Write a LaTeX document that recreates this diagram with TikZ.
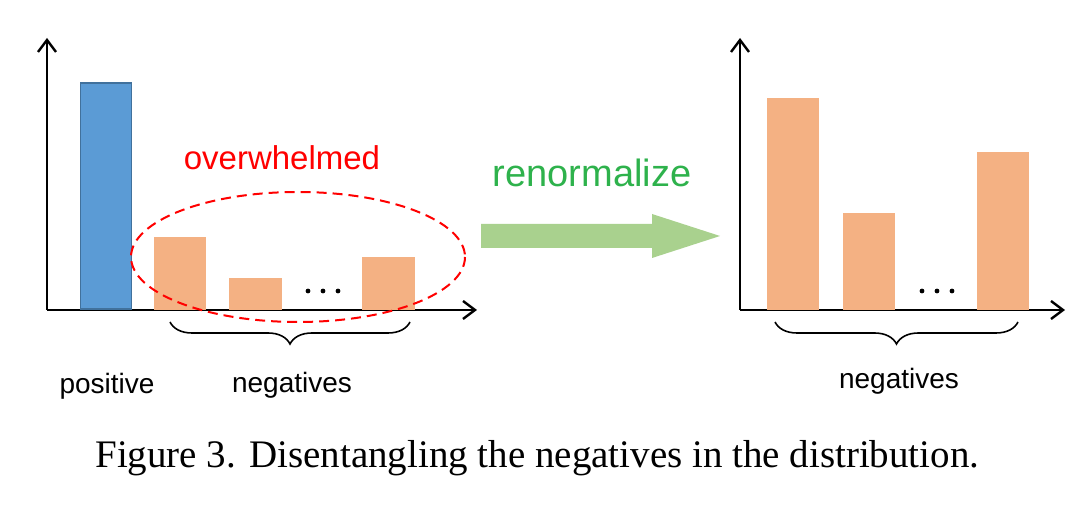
\documentclass[tikz,border=0pt]{standalone}
\usepackage{fontspec}
\setmainfont{Liberation Serif}
\setsansfont{Liberation Sans}
\usetikzlibrary{decorations.pathreplacing,arrows.meta}
\definecolor{bluebar}{HTML}{5B9BD5}
\definecolor{bluebd}{HTML}{41719C}
\definecolor{orbar}{HTML}{F4B183}
\definecolor{grarrow}{HTML}{A9D18E}
\definecolor{grtext}{HTML}{2EB24C}
\begin{document}
\begin{tikzpicture}[x=0.5pt,y=-0.5pt,
  ax/.style={line width=1.2pt,-{Straight Barb[length=6pt,width=9pt]}},
  ob/.style={fill=orbar,draw=none},
  lbl/.style={font=\sffamily\fontsize{14}{16}\selectfont},
  dot/.style={circle,fill=black,inner sep=0,minimum size=2.4pt},
  br/.style={decorate,decoration={brace,mirror,amplitude=11pt},line width=0.8pt}]
\useasboundingbox (0,0) rectangle (1076,506);
\fill[white] (0,0) rectangle (1076,506);
% left axes
\coordinate (lo) at (47,310);
\draw[ax] (lo) -- (47,38);
\draw[ax] (lo) -- (477,310);
\node[fill=bluebar,draw=bluebd,line width=0.8pt,inner sep=0,minimum width=25.5pt,minimum height=113pt,anchor=south west] (pos) at (79.5,310) {};
\node[ob,inner sep=0,minimum width=26pt,minimum height=36.5pt,anchor=south west] (n1) at (154,310) {};
\node[ob,inner sep=0,minimum width=26.5pt,minimum height=16pt,anchor=south west] (n2) at (229,310) {};
\node[ob,inner sep=0,minimum width=26.5pt,minimum height=26.5pt,anchor=south west] (n3) at (362,310) {};
\foreach \i/\x in {a/308,b/323,c/338} \node[dot] (l\i) at (\x,291) {};
\draw[red,dash pattern=on 5pt off 3pt,line width=1pt] (298,257) ellipse [x radius=167, y radius=65];
\node[red,font=\sffamily\fontsize{16.5}{18}\selectfont] (ow) at (282,158) {overwhelmed};
\draw[br] (170,322) -- (410,322);
\node[lbl] (pl) at (107,386) {positive};
\node[lbl] (nl) at (292,385) {negatives};
% arrow
\fill[grarrow] (481,224) -- (652,224) -- (652,214) -- (720,236) -- (652,258) -- (652,248) -- (481,248) -- cycle;
\node[grtext,font=\sffamily\fontsize{19}{20}\selectfont] (rn) at (592,173) {renormalize};
% right axes
\coordinate (ro) at (740,310);
\draw[ax] (ro) -- (740,38);
\draw[ax] (ro) -- (1065,310);
\node[ob,inner sep=0,minimum width=26pt,minimum height=106pt,anchor=south west] (m1) at (767,310) {};
\node[ob,inner sep=0,minimum width=26pt,minimum height=48.5pt,anchor=south west] (m2) at (843,310) {};
\node[ob,inner sep=0,minimum width=26pt,minimum height=79pt,anchor=south west] (m3) at (977,310) {};
\foreach \i/\x in {a/922,b/937,c/952} \node[dot] (r\i) at (\x,291) {};
\draw[br] (775,322) -- (1018,322);
\node[lbl] (nr) at (899,381) {negatives};
% caption
\node[font=\fontsize{19.5}{22}\selectfont,anchor=west,inner sep=0] (cap) at (95,458) {Figure 3. Disentangling the negatives in the distribution.};
\end{tikzpicture}
\end{document}
